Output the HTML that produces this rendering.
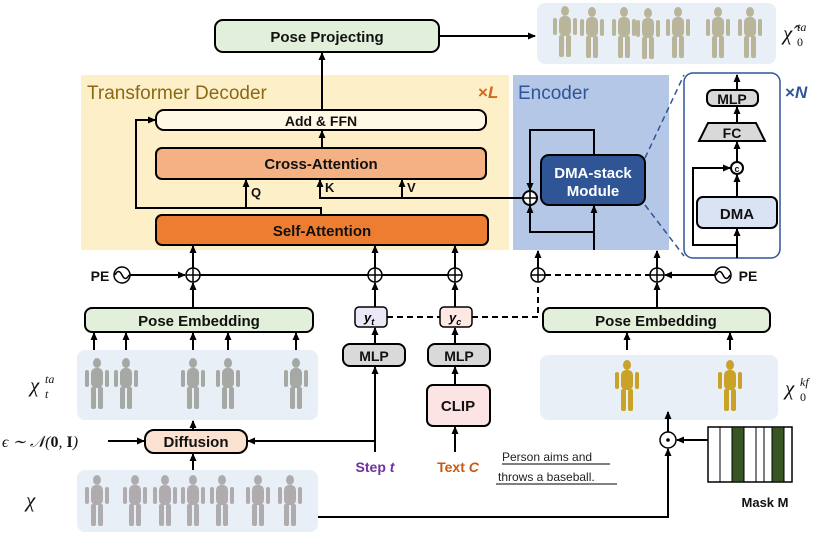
<!DOCTYPE html>
<html><head><meta charset="utf-8"><style>
body{margin:0;background:#fff}
svg{display:block;font-family:"Liberation Sans",sans-serif}
.b{font-weight:bold}
</style></head><body>
<svg width="825" height="537" viewBox="0 0 825 537" xmlns="http://www.w3.org/2000/svg">
<defs>
<marker id="a" markerWidth="8" markerHeight="8" refX="7" refY="4" orient="auto" markerUnits="userSpaceOnUse"><path d="M0,0.5 L8,4 L0,7.5 Z" fill="#000"/></marker>
<g id="fig"><ellipse cx="0" cy="-22" rx="4" ry="5"/><rect x="-6" y="-17" width="12" height="20" rx="5"/><rect x="-6" y="2" width="5" height="22" rx="2"/><rect x="1" y="2" width="5" height="22" rx="2"/><rect x="-12" y="-15" width="4" height="17" rx="2"/><rect x="8" y="-15" width="4" height="17" rx="2"/></g>
</defs>
<g stroke="#000" stroke-width="2" fill="none">
<rect x="81" y="75" width="428" height="175" fill="#fdf0c9" stroke="none"/>
<rect x="513" y="75" width="156" height="175" fill="#b4c7e7" stroke="none"/>
<rect x="537" y="3" width="239" height="61" rx="8" fill="#e9eff7" stroke="none"/>
<rect x="77" y="350" width="241" height="70" rx="8" fill="#e9eff7" stroke="none"/>
<rect x="77" y="470" width="241" height="62" rx="8" fill="#e9eff7" stroke="none"/>
<rect x="540" y="355" width="238" height="65" rx="8" fill="#e9eff7" stroke="none"/>
<rect x="684" y="73" width="96" height="185" rx="9" fill="#fff" stroke="#2f5597" stroke-width="1.5"/>
<line x1="645" y1="158" x2="684" y2="75" stroke="#2f5597" stroke-width="1.5" stroke-dasharray="6,4"/>
<line x1="645" y1="205" x2="684" y2="256" stroke="#2f5597" stroke-width="1.5" stroke-dasharray="6,4"/>
<rect x="215" y="20" width="224" height="32" rx="8" fill="#e2efda"/>
<rect x="156" y="110" width="330" height="20" rx="8" fill="#fff8e4"/>
<rect x="156" y="148" width="330" height="31" rx="6" fill="#f4b183"/>
<rect x="156" y="215" width="332" height="30" rx="6" fill="#ed7d31"/>
<rect x="541" y="155" width="104" height="50" rx="8" fill="#2f5597"/>
<rect x="707" y="90" width="51" height="16" rx="6" fill="#d9d9d9"/>
<path d="M708,123 L756,123 L765,141 L699,141 Z" fill="#d9d9d9"/>
<rect x="697" y="197" width="80" height="31" rx="6" fill="#dae3f3"/>
<circle cx="737" cy="168" r="6" fill="#fff"/>
<rect x="85" y="308" width="228" height="24" rx="7" fill="#e2efda"/>
<rect x="543" y="308" width="227" height="24" rx="7" fill="#e2efda"/>
<rect x="355" y="307" width="32" height="20" rx="4" fill="#ece8f8" stroke-width="1.5"/>
<rect x="440" y="307" width="32" height="20" rx="4" fill="#fde8e4" stroke-width="1.5"/>
<rect x="343" y="344" width="62" height="22" rx="7" fill="#d9d9d9"/>
<rect x="428" y="344" width="62" height="22" rx="7" fill="#d9d9d9"/>
<rect x="427" y="385" width="63" height="41" rx="6" fill="#fde4e4"/>
<rect x="145" y="430" width="102" height="23" rx="9" fill="#fbe2d0"/>
<rect x="708" y="427" width="84" height="55" fill="#fff" stroke-width="1.5"/>
<g fill="#375623" stroke-width="1"><rect x="732" y="427" width="12" height="55"/><rect x="772" y="427" width="12" height="55"/></g>
<g stroke-width="1"><line x1="720" y1="427" x2="720" y2="482"/><line x1="756" y1="427" x2="756" y2="482"/><line x1="764" y1="427" x2="764" y2="482"/></g>
<line x1="439" y1="36" x2="535" y2="36" marker-end="url(#a)"/>
<line x1="322" y1="110" x2="322" y2="53" marker-end="url(#a)"/>
<line x1="322" y1="148" x2="322" y2="131" marker-end="url(#a)"/>
<polyline points="321,215 321,208 136,208 136,120 155,120" marker-end="url(#a)"/>
<line x1="246" y1="208" x2="246" y2="180" marker-end="url(#a)"/>
<polyline points="523,198 320,198 320,180" marker-end="url(#a)"/>
<line x1="402" y1="198" x2="402" y2="180" marker-end="url(#a)"/>
<polyline points="594,155 594,130 530,130 530,190" marker-end="url(#a)"/>
<line x1="594" y1="250" x2="594" y2="206" marker-end="url(#a)"/>
<polyline points="594,232 530,232 530,206" marker-end="url(#a)"/>
<circle cx="530" cy="198" r="7" fill="#fff"/><path d="M523,198 H537 M530,191 V205" stroke-width="1.5"/>
<line x1="737" y1="90" x2="737" y2="75" marker-end="url(#a)"/>
<line x1="737" y1="123" x2="737" y2="107" marker-end="url(#a)"/>
<line x1="737" y1="162" x2="737" y2="142" marker-end="url(#a)"/>
<line x1="737" y1="197" x2="737" y2="175" marker-end="url(#a)"/>
<line x1="737" y1="258" x2="737" y2="229" marker-end="url(#a)"/>
<polyline points="737,245 693,245 693,168 730,168" marker-end="url(#a)"/>
<line x1="130" y1="275" x2="185" y2="275" marker-end="url(#a)"/>
<line x1="200" y1="275" x2="448" y2="275"/>
<line x1="545" y1="275" x2="650" y2="275" stroke-dasharray="6,4"/>
<line x1="715" y1="275" x2="665" y2="275" marker-end="url(#a)"/>
<line x1="193" y1="268" x2="193" y2="246" marker-end="url(#a)"/>
<line x1="375" y1="268" x2="375" y2="246" marker-end="url(#a)"/>
<line x1="455" y1="268" x2="455" y2="246" marker-end="url(#a)"/>
<line x1="538" y1="268" x2="538" y2="251" marker-end="url(#a)"/>
<line x1="657" y1="268" x2="657" y2="251" marker-end="url(#a)"/>
<g fill="#fff" stroke-width="1.5">
<circle cx="193" cy="275" r="7"/><circle cx="375" cy="275" r="7"/><circle cx="455" cy="275" r="7"/><circle cx="538" cy="275" r="7"/><circle cx="657" cy="275" r="7"/>
<circle cx="122" cy="275" r="8"/><circle cx="723" cy="275" r="8"/>
</g>
<path d="M186,275H200M193,268V282 M368,275H382M375,268V282 M448,275H462M455,268V282 M531,275H545M538,268V282 M650,275H664M657,268V282" stroke-width="1.5"/>
<path d="M115,275 q3.5,-7 7,0 t7,0 M716,275 q3.5,-7 7,0 t7,0" stroke-width="1.5"/>
<line x1="193" y1="308" x2="193" y2="283" marker-end="url(#a)"/>
<line x1="657" y1="308" x2="657" y2="283" marker-end="url(#a)"/>
<line x1="375" y1="307" x2="375" y2="283" marker-end="url(#a)"/>
<line x1="455" y1="307" x2="455" y2="283" marker-end="url(#a)"/>
<polyline points="387,317 440,317" stroke-dasharray="6,4"/>
<polyline points="472,317 538,317 538,284" stroke-dasharray="6,4"/>
<line x1="375" y1="344" x2="375" y2="328" marker-end="url(#a)"/>
<line x1="455" y1="344" x2="455" y2="328" marker-end="url(#a)"/>
<line x1="455" y1="385" x2="455" y2="367" marker-end="url(#a)"/>
<line x1="375" y1="452" x2="375" y2="367" marker-end="url(#a)"/>
<line x1="455" y1="452" x2="455" y2="427" marker-end="url(#a)"/>
<line x1="375" y1="441" x2="248" y2="441" marker-end="url(#a)"/>
<line x1="108" y1="441" x2="144" y2="441" marker-end="url(#a)"/>
<line x1="193" y1="430" x2="193" y2="421" marker-end="url(#a)"/>
<line x1="193" y1="470" x2="193" y2="454" marker-end="url(#a)"/>
<g><line x1="94" y1="350" x2="94" y2="333" marker-end="url(#a)"/><line x1="126" y1="350" x2="126" y2="333" marker-end="url(#a)"/><line x1="193" y1="350" x2="193" y2="333" marker-end="url(#a)"/><line x1="228" y1="350" x2="228" y2="333" marker-end="url(#a)"/><line x1="296" y1="350" x2="296" y2="333" marker-end="url(#a)"/></g>
<line x1="627" y1="350" x2="627" y2="333" marker-end="url(#a)"/>
<line x1="730" y1="350" x2="730" y2="333" marker-end="url(#a)"/>
<polyline points="318,517 668,517 668,449" marker-end="url(#a)"/>
<line x1="708" y1="440" x2="677" y2="440" marker-end="url(#a)"/>
<line x1="668" y1="432" x2="668" y2="412" marker-end="url(#a)"/>
<circle cx="668" cy="440" r="8" fill="#fff" stroke-width="1.5"/>
<circle cx="668" cy="440" r="1.8" fill="#000" stroke="none"/>
<line x1="502" y1="464" x2="610" y2="464" stroke-width="1"/>
<line x1="496" y1="484" x2="617" y2="484" stroke-width="1"/>
</g>
<g fill="#b8b59a">
<use href="#fig" x="565" y="33"/><use href="#fig" x="592" y="34"/><use href="#fig" x="624" y="34"/><use href="#fig" x="648" y="35"/><use href="#fig" x="678" y="34"/><use href="#fig" x="718" y="34"/><use href="#fig" x="750" y="34"/>
</g>
<g fill="#a6a8a4">
<use href="#fig" x="97" y="385"/><use href="#fig" x="126" y="385"/><use href="#fig" x="193" y="385"/><use href="#fig" x="228" y="385"/><use href="#fig" x="296" y="385"/>
</g>
<g fill="#b0abaf">
<use href="#fig" x="97" y="502"/><use href="#fig" x="135" y="502"/><use href="#fig" x="165" y="502"/><use href="#fig" x="193" y="502"/><use href="#fig" x="222" y="502"/><use href="#fig" x="258" y="502"/><use href="#fig" x="290" y="502"/>
</g>
<g fill="#c9a227"><use href="#fig" x="627" y="387"/><use href="#fig" x="730" y="387"/></g>
<g class="b" font-size="15" text-anchor="middle" fill="#111">
<text x="327" y="42">Pose Projecting</text>
<text x="321" y="126" font-size="14">Add &amp; FFN</text>
<text x="321" y="169">Cross-Attention</text>
<text x="322" y="236">Self-Attention</text>
<text x="593" y="178" fill="#fff" font-size="15">DMA-stack</text>
<text x="593" y="196" fill="#fff" font-size="15">Module</text>
<text x="732" y="104" font-size="14">MLP</text>
<text x="732" y="138" font-size="14">FC</text>
<text x="737" y="219" font-size="15">DMA</text>
<text x="199" y="326" font-size="15">Pose Embedding</text>
<text x="656" y="326" font-size="15">Pose Embedding</text>
<text x="374" y="361" font-size="14">MLP</text>
<text x="459" y="361" font-size="14">MLP</text>
<text x="458" y="411" font-size="15">CLIP</text>
<text x="196" y="447" font-size="15">Diffusion</text>
<text x="765" y="507" font-size="13">Mask M</text>
<text x="375" y="472" font-size="14" fill="#7030a0">Step <tspan font-style="italic">t</tspan></text>
<text x="458" y="472" font-size="14" fill="#c55a11">Text <tspan font-style="italic">C</tspan></text>
<text x="251" y="197" font-size="13" text-anchor="start">Q</text>
<text x="325" y="192" font-size="13" text-anchor="start">K</text>
<text x="407" y="192" font-size="13" text-anchor="start">V</text>
<text x="100" y="281" font-size="14">PE</text>
<text x="748" y="281" font-size="14">PE</text>
<text x="737" y="172" font-size="9">c</text>
</g>
<text x="87" y="99" font-size="19" fill="#8b6914">Transformer Decoder</text>
<text x="478" y="98" font-size="17" font-weight="bold" fill="#d26a1e">×<tspan font-style="italic">L</tspan></text>
<text x="518" y="99" font-size="19" fill="#2f5597">Encoder</text>
<text x="785" y="98" font-size="17" font-weight="bold" fill="#2f5597">×<tspan font-style="italic">N</tspan></text>
<text x="364" y="322" font-size="13" font-weight="bold" font-style="italic">y<tspan font-size="9" dy="3">t</tspan></text>
<text x="449" y="322" font-size="13" font-weight="bold" font-style="italic">y<tspan font-size="9" dy="3">c</tspan></text>
<g font-family="Liberation Serif,serif" font-style="italic" font-size="21" fill="#111">
<text x="783" y="40">χ̂</text><text x="797" y="31" font-size="12">ta</text><text x="797" y="46" font-size="12" font-style="normal">0</text>
<text x="30" y="392">χ</text><text x="45" y="383" font-size="12">ta</text><text x="45" y="398" font-size="12">t</text>
<text x="785" y="395">χ</text><text x="800" y="386" font-size="12">kf</text><text x="800" y="401" font-size="12" font-style="normal">0</text>
<text x="26" y="507">χ</text>
<text x="2" y="447" font-size="16">ϵ ∼ 𝒩(<tspan font-weight="bold" font-style="normal">0</tspan>, <tspan font-weight="bold" font-style="normal">I</tspan>)</text>
</g>
<text x="502" y="461" font-size="12" fill="#222">Person aims and</text>
<text x="498" y="481" font-size="12" fill="#222">throws a baseball.</text>
</svg>
</body></html>
